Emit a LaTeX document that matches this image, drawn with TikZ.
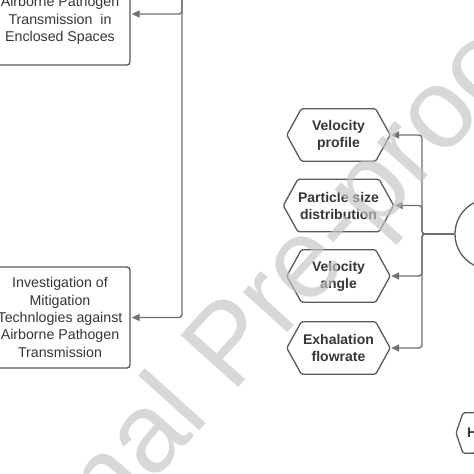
\documentclass[tikz,border=0pt]{standalone}
\usepackage{fontspec}
\setmainfont{Liberation Sans}
\usetikzlibrary{arrows.meta,calc,shapes.geometric}
\definecolor{linec}{HTML}{707070}
\definecolor{boxc}{HTML}{5A5A5A}
\definecolor{txtc}{HTML}{363636}
\definecolor{wmc}{HTML}{C4C4C4}
\tikzset{
  box/.style={draw=boxc, line width=1.3pt, rounded corners=3pt, align=center, text=txtc,
    font=\fontsize{14.2}{17.3}\selectfont, minimum width=140pt, inner sep=0pt},
  hexlabel/.style={align=center, text=txtc, font=\fontsize{14}{17}\selectfont\bfseries,
    minimum width=74pt, minimum height=52pt, inner sep=0pt},
  hexline/.style={draw=boxc, line width=1.3pt, rounded corners=1.5pt},
  conn/.style={draw=linec, line width=1.4pt, rounded corners=3pt, shorten >=1pt,
    -{Triangle[length=8pt,width=7pt]}},
  watermark/.style={rotate=48, anchor=base west, font=\fontsize{113}{113}\selectfont,
    text=wmc, opacity=0.65, inner sep=0pt},
}
\begin{document}
\begin{tikzpicture}[x=1pt, y=-1pt]
\useasboundingbox (0,0) rectangle (474,474);
\clip (0,0) rectangle (474,474);
\fill[white] (0,0) rectangle (474,474);

% left boxes
\node[box, minimum height=89pt] (b1) at (60,20.5) {Airborne Pathogen\\Transmission~ in\\Enclosed Spaces};
\node[box, minimum height=101pt] (b2) at (60,317.5) {Investigation of\\Mitigation\\Technlogies against\\Airborne Pathogen\\Transmission};

\coordinate (ltop) at (182,-8);
\coordinate (tj) at (182,14);
\draw[conn] (ltop) -- (tj) -- (tj -| b1.east);
\draw[conn] (ltop) |- (b2.east);

% hexagons
\node[hexlabel] (h1) at (338.5,135) {Velocity\\profile};
\node[hexlabel] (h2) at (338.5,205.5) {Particle size\\distribution};
\node[hexlabel] (h3) at (338.5,276) {Velocity\\angle};
\node[hexlabel] (h4) at (338.5,348) {Exhalation\\flowrate};
\foreach \n in {h1,h2,h3,h4}{
  \draw[hexline] ($(\n.west)+(-14.5,0)$) -- (\n.north west) -- (\n.north east)
    -- ($(\n.east)+(14.5,0)$) -- (\n.south east) -- (\n.south west) -- cycle;
  \coordinate (\n-r) at ($(\n.east)+(14.5,0)$);
}

% circle on the right
\node[draw=boxc, line width=1.3pt, circle, minimum size=70pt, inner sep=0pt] (c) at (490,234) {};
\coordinate (rj) at (422,234);
\foreach \n in {h1,h2,h3,h4}{
  \draw[conn] (c.west) -- (rj) |- (\n-r);
}

% partial hexagon bottom right
\node[text=txtc, font=\fontsize{14}{17}\selectfont\bfseries, anchor=west, inner sep=0pt,
  minimum height=40pt] (h5) at (467,433) {H};
\draw[hexline] ($(h5.west)+(-11,0)$) -- ($(h5.north west)+(-4,0)$) -- ++(60,0)
  -- ++(0,40) -- ($(h5.south west)+(-4,0)$) -- cycle;

% watermark
\node[watermark] (wm) at (-37,693) {Journal Pre-proof};
\end{tikzpicture}
\end{document}
